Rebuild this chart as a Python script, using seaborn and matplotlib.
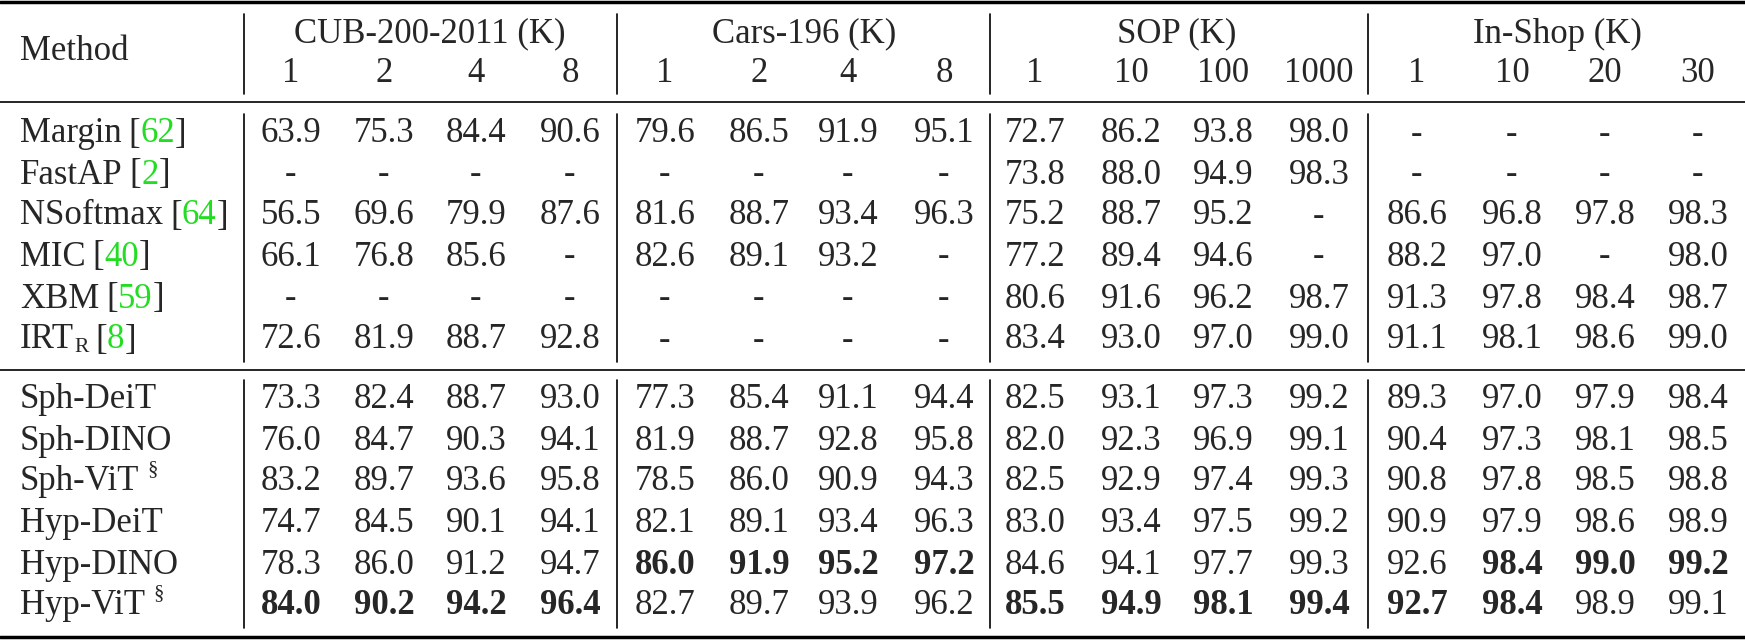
import matplotlib
matplotlib.use("Agg")
import matplotlib.pyplot as plt
import seaborn as sns

# ---- table data ----
groups = ["CUB-200-2011 (K)", "Cars-196 (K)", "SOP (K)", "In-Shop (K)"]
ks = [["1", "2", "4", "8"], ["1", "2", "4", "8"],
      ["1", "10", "100", "1000"], ["1", "10", "20", "30"]]

# (name, subscript, citation, superscript)
methods_a = [("Margin", "", "62", ""), ("FastAP", "", "2", ""),
             ("NSoftmax", "", "64", ""), ("MIC", "", "40", ""),
             ("XBM", "", "59", ""), ("IRT", "R", "8", "")]
methods_b = [("Sph-DeiT", "", "", ""), ("Sph-DINO", "", "", ""),
             ("Sph-ViT", "", "", "\u00a7"), ("Hyp-DeiT", "", "", ""),
             ("Hyp-DINO", "", "", ""), ("Hyp-ViT", "", "", "\u00a7")]

values_a = [
    "63.9 75.3 84.4 90.6 79.6 86.5 91.9 95.1 72.7 86.2 93.8 98.0 - - - -",
    "- - - - - - - - 73.8 88.0 94.9 98.3 - - - -",
    "56.5 69.6 79.9 87.6 81.6 88.7 93.4 96.3 75.2 88.7 95.2 - 86.6 96.8 97.8 98.3",
    "66.1 76.8 85.6 - 82.6 89.1 93.2 - 77.2 89.4 94.6 - 88.2 97.0 - 98.0",
    "- - - - - - - - 80.6 91.6 96.2 98.7 91.3 97.8 98.4 98.7",
    "72.6 81.9 88.7 92.8 - - - - 83.4 93.0 97.0 99.0 91.1 98.1 98.6 99.0",
]
values_b = [
    "73.3 82.4 88.7 93.0 77.3 85.4 91.1 94.4 82.5 93.1 97.3 99.2 89.3 97.0 97.9 98.4",
    "76.0 84.7 90.3 94.1 81.9 88.7 92.8 95.8 82.0 92.3 96.9 99.1 90.4 97.3 98.1 98.5",
    "83.2 89.7 93.6 95.8 78.5 86.0 90.9 94.3 82.5 92.9 97.4 99.3 90.8 97.8 98.5 98.8",
    "74.7 84.5 90.1 94.1 82.1 89.1 93.4 96.3 83.0 93.4 97.5 99.2 90.9 97.9 98.6 98.9",
    "78.3 86.0 91.2 94.7 86.0 91.9 95.2 97.2 84.6 94.1 97.7 99.3 92.6 98.4 99.0 99.2",
    "84.0 90.2 94.2 96.4 82.7 89.7 93.9 96.2 85.5 94.9 98.1 99.4 92.7 98.4 98.9 99.1",
]
# bold cells in block b: row index -> column indices
bold_b = {4: [4, 5, 6, 7, 13, 14, 15], 5: [0, 1, 2, 3, 8, 9, 10, 11, 12, 13]}

# ---- layout ----
sns.set_theme(style="white")
plt.rcParams["font.family"] = ["Liberation Serif", "DejaVu Serif"]
FS = 25
GREEN = "#22dd22"

W, H = 1745, 641
fig = plt.figure(figsize=(W / 100, H / 100), dpi=100)
ax = fig.add_axes([0, 0, 1, 1])
ax.set_xlim(0, W)
ax.set_ylim(H, 0)
ax.axis("off")

col_x = [291, 384, 476, 570, 665, 759, 848, 944,
         1035, 1131, 1223, 1319, 1417, 1512, 1605, 1698]
vlines = [244, 617, 990, 1368]
group_x = [430, 804, 1177, 1557]
rows_a = [134, 175, 216, 257, 299, 340]
rows_b = [400, 441, 482, 524, 565, 606]
name_x = 20

# rules
ax.plot([0, W], [2, 2], color="black", lw=2.5)
ax.plot([0, W], [102, 102], color="black", lw=1.2)
ax.plot([0, W], [370, 370], color="black", lw=1.2)
ax.plot([0, W], [637, 637], color="black", lw=2.5)
for x in vlines:
    for y0, y1 in [(14, 94), (114, 362), (380, 628)]:
        ax.plot([x, x], [y0, y1], color="black", lw=1.2)

# header
ax.text(name_x, 52, "Method", fontsize=FS, ha="left", va="center")
for g, gx in zip(groups, group_x):
    ax.text(gx, 34, g, fontsize=FS, ha="center", va="center")
for i, k in enumerate(sum(ks, [])):
    ax.text(col_x[i], 74, k, fontsize=FS, ha="center", va="center")

fig.canvas.draw()
renderer = fig.canvas.get_renderer()


def put(x, y, s, **kw):
    t = ax.text(x, y, s, ha="left", va="center", **kw)
    bb = t.get_window_extent(renderer)
    return x + bb.width  # 1 data unit == 1 px


def draw_name(y, name, sub, cite, sup):
    x = put(name_x, y, name, fontsize=FS)
    if sub:
        x = put(x, y + 8, sub, fontsize=FS * 0.62)
    if sup:
        x = put(x + 8, y - 12, sup, fontsize=FS * 0.6)
    if cite:
        x = put(x + 7, y, "[", fontsize=FS)
        x = put(x, y, cite, fontsize=FS, color=GREEN)
        put(x, y, "]", fontsize=FS)


for block_rows, methods, values, bold in [
        (rows_a, methods_a, values_a, {}),
        (rows_b, methods_b, values_b, bold_b)]:
    for r, (y, m, vals) in enumerate(zip(block_rows, methods, values)):
        draw_name(y, *m)
        for c, v in enumerate(vals.split()):
            w = "bold" if c in bold.get(r, []) else "normal"
            ax.text(col_x[c], y, v, fontsize=FS, ha="center", va="center",
                    fontweight=w)

fig.savefig("out.png", dpi=100, facecolor="white")
